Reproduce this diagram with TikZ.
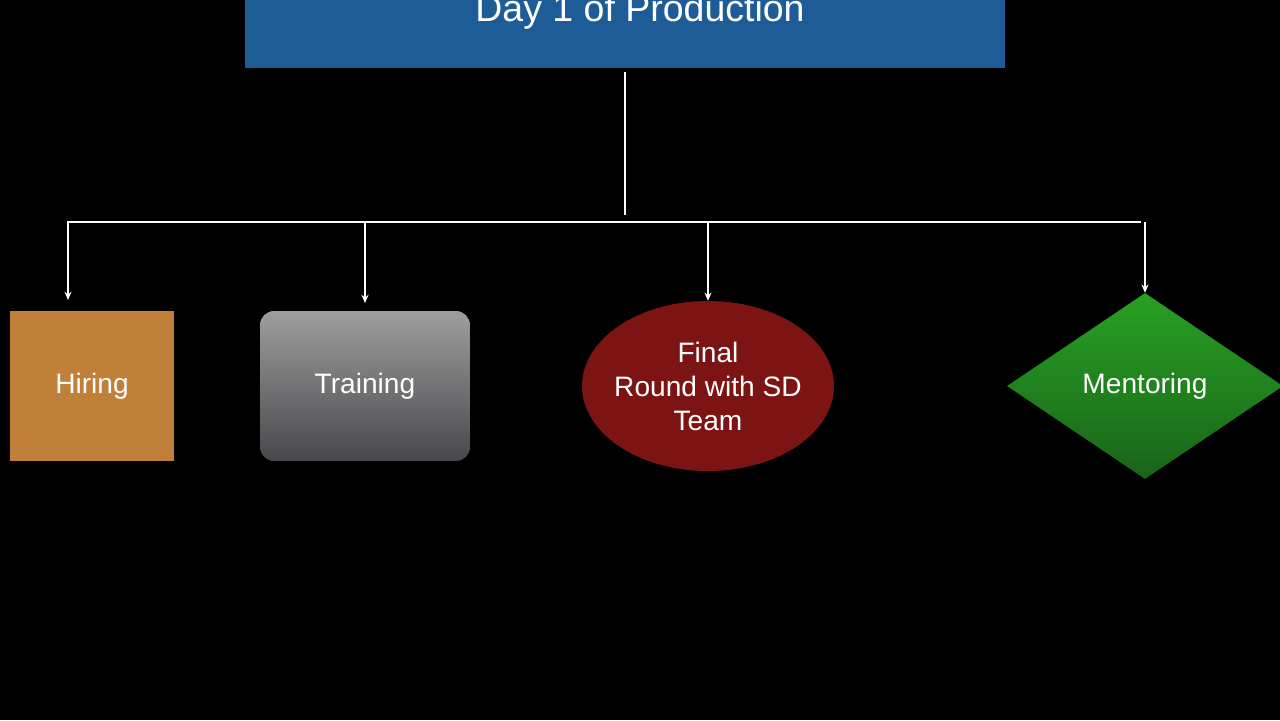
\documentclass[tikz,border=0pt]{standalone}
\usepackage{fontspec}
\setmainfont{Liberation Sans}
\usetikzlibrary{shapes.geometric,arrows.meta}
\begin{document}
\begin{tikzpicture}[x=0.03cm,y=-0.03cm,
  lbl/.style={text=white,font=\fontsize{24}{29}\selectfont,align=center},
  conn/.style={draw=white,line width=1.4pt},
  arr/.style={conn,-{Stealth[length=7pt,width=6pt]}}]
\fill[black] (0,0) rectangle (1280,720);
\useasboundingbox (0,0) rectangle (1280,720);
\begin{scope}
\clip (0,0) rectangle (1280,720);
\node[fill={rgb,255:red,30;green,92;blue,152},minimum width=760*0.03cm,minimum height=80*0.03cm,anchor=south west,inner sep=0] (top) at (245,68) {};
\node[text=white,font=\fontsize{32}{38}\selectfont] (title) at (640,12) {Day 1 of Production};
\end{scope}
\coordinate (j) at (625,215);
\coordinate (l) at (67,222);
\coordinate (r) at (1141,222);
\draw[conn] (625,72) -- (j);
\draw[conn] (l) -- (r);
\node[fill={rgb,255:red,192;green,128;blue,58},minimum width=164*0.03cm,minimum height=150*0.03cm,inner sep=0,lbl] (hire) at (92,386) {Hiring};
\node[rounded corners=12pt,top color={rgb,255:red,158;green,158;blue,158},bottom color={rgb,255:red,72;green,72;blue,76},minimum width=210*0.03cm,minimum height=150*0.03cm,inner sep=0,lbl] (train) at (365,386) {Training};
\node[ellipse,fill={rgb,255:red,125;green,20;blue,20},minimum width=252*0.03cm,minimum height=170*0.03cm,inner sep=-12pt,lbl] (final) at (708,386) {Final\\Round with SD\\Team};
\node[diamond,aspect=1.48,top color={rgb,255:red,40;green,160;blue,35},bottom color={rgb,255:red,25;green,100;blue,25},minimum width=276*0.03cm,minimum height=186*0.03cm,inner sep=0,lbl] (ment) at (1145,386) {Mentoring};
\coordinate (a1) at (68,222);
\coordinate (a2) at (365,222);
\coordinate (a3) at (708,222);
\coordinate (a4) at (1145,222);
\draw[arr] (a1) -- (68,300);
\draw[arr] (a2) -- (365,303);
\draw[arr] (a3) -- (final.north);
\draw[arr] (a4) -- (ment.north);
\end{tikzpicture}
\end{document}
